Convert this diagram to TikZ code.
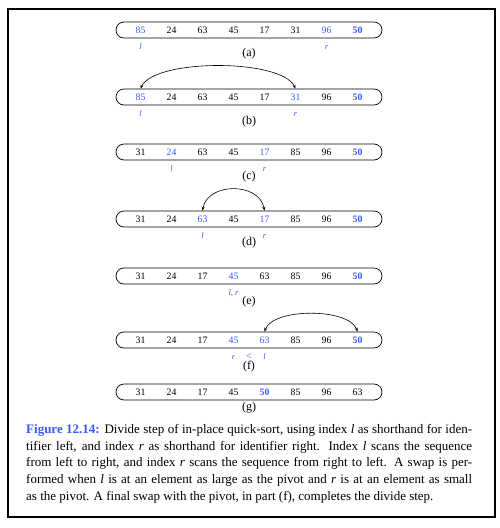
\documentclass[tikz,border=0pt]{standalone}
\usepackage{fontspec}
\setmainfont{Liberation Serif}
\usetikzlibrary{arrows.meta, positioning}
\definecolor{idxblue}{HTML}{3858FF}

\begin{document}
\begin{tikzpicture}[
    x=1pt, y=1pt,
    seqbox/.style={draw, rounded corners=8pt, minimum width=266pt, minimum height=16pt, line width=0.7pt},
    num/.style={font=\fontsize{9.8}{10}\selectfont, inner sep=1pt},
    numblue/.style={num, text=idxblue},
    numpivot/.style={num, text=idxblue, font=\fontsize{9.8}{10}\selectfont\bfseries},
    idx/.style={font=\fontsize{8.5}{9}\selectfont\itshape, text=idxblue, inner sep=1pt},
    tag/.style={font=\fontsize{12}{14}\selectfont, inner sep=1pt},
    swap/.style={{Stealth[length=4pt, width=3pt]}-{Stealth[length=4pt, width=3pt]}, line width=0.6pt},
]

\useasboundingbox (0,0) rectangle (499,-528);
\draw[line width=1.4pt] (8,-9) rectangle (495,-517);

% (a)
\node[seqbox] (rowa) at (249,-30) {};
\foreach \v/\s [count=\i] in {85/numblue, 24/num, 63/num, 45/num, 17/num, 31/num, 96/numblue, 50/numpivot}
  \node[\s] (a\i) at ([xshift={(\i-4.5)*31pt}]rowa.center) {\v};
\node[idx] (la) at ([yshift=-17pt]a1.center) {l};
\node[idx] (ra) at ([yshift=-17pt]a7.center) {r};
\node[tag] (capa) at ([yshift=-24pt]rowa.center) {(a)};

% (b)
\node[seqbox] (rowb) at (249,-97) {};
\foreach \v/\s [count=\i] in {85/numblue, 24/num, 63/num, 45/num, 17/num, 31/numblue, 96/num, 50/numpivot}
  \node[\s] (b\i) at ([xshift={(\i-4.5)*31pt}]rowb.center) {\v};
\node[idx] (lb) at ([yshift=-17pt]b1.center) {l};
\node[idx] (rb) at ([yshift=-17pt]b6.center) {r};
\node[tag] (capb) at ([yshift=-25pt]rowb.center) {(b)};
\draw[swap] (b1 |- rowb.north) to[out=65, in=115, looseness=0.55] (b6 |- rowb.north);

% (c)
\node[seqbox] (rowc) at (249,-152) {};
\foreach \v/\s [count=\i] in {31/num, 24/numblue, 63/num, 45/num, 17/numblue, 85/num, 96/num, 50/numpivot}
  \node[\s] (c\i) at ([xshift={(\i-4.5)*31pt}]rowc.center) {\v};
\node[idx] (lc) at ([yshift=-17pt]c2.center) {l};
\node[idx] (rc) at ([yshift=-17pt]c5.center) {r};
\node[tag] (capc) at ([yshift=-25pt]rowc.center) {(c)};

% (d)
\node[seqbox] (rowd) at (249,-219) {};
\foreach \v/\s [count=\i] in {31/num, 24/num, 63/numblue, 45/num, 17/numblue, 85/num, 96/num, 50/numpivot}
  \node[\s] (d\i) at ([xshift={(\i-4.5)*31pt}]rowd.center) {\v};
\node[idx] (ld) at ([yshift=-17pt]d3.center) {l};
\node[idx] (rd) at ([yshift=-17pt]d5.center) {r};
\node[tag] (capd) at ([yshift=-24pt]rowd.center) {(d)};
\draw[swap] (d3 |- rowd.north) to[out=80, in=100, looseness=1.2] (d5 |- rowd.north);

% (e)
\node[seqbox] (rowe) at (249,-276) {};
\foreach \v/\s [count=\i] in {31/num, 24/num, 17/num, 45/numblue, 63/num, 85/num, 96/num, 50/numpivot}
  \node[\s] (e\i) at ([xshift={(\i-4.5)*31pt}]rowe.center) {\v};
\node[idx] (lre) at ([yshift=-17pt]e4.center) {l, r};
\node[tag] (cape) at ([yshift=-26pt]rowe.center) {(e)};

% (f)
\node[seqbox] (rowf) at (249,-340) {};
\foreach \v/\s [count=\i] in {31/num, 24/num, 17/num, 45/numblue, 63/numblue, 85/num, 96/num, 50/numpivot}
  \node[\s] (f\i) at ([xshift={(\i-4.5)*31pt}]rowf.center) {\v};
\node[idx] (rf) at ([yshift=-17pt]f4.center) {r};
\node[idx, font=\fontsize{10}{10}\selectfont] (ltf) at ([yshift=-17pt]rowf.center) {<};
\node[idx] (lf) at ([yshift=-17pt]f5.center) {l};
\node[tag] (capf) at ([yshift=-27pt]rowf.center) {(f)};
\draw[swap] (f5 |- rowf.north) to[out=70, in=110, looseness=0.7] (f8 |- rowf.north);

% (g)
\node[seqbox] (rowg) at (249,-392) {};
\foreach \v/\s [count=\i] in {31/num, 24/num, 17/num, 45/num, 50/numpivot, 85/num, 96/num, 63/num}
  \node[\s] (g\i) at ([xshift={(\i-4.5)*31pt}]rowg.center) {\v};
\node[tag] (capg) at ([yshift=-16pt]rowg.center) {(g)};

% caption
\node[anchor=north west, text width=446pt, align=justify, inner sep=0pt,
      font=\fontsize{13}{16.8}\selectfont] (caption) at (26,-424) {%
  \textcolor{idxblue}{\textbf{Figure 12.14:}} Divide step of in-place quick-sort, using index \textit{l} as shorthand for iden-\linebreak
  tifier left, and index \textit{r} as shorthand for identifier right. Index \textit{l} scans the sequence\linebreak
  from left to right, and index \textit{r} scans the sequence from right to left. A swap is per-\linebreak
  formed when \textit{l} is at an element as large as the pivot and \textit{r} is at an element as small\linebreak
  as the pivot. A final swap with the pivot, in part (f), completes the divide step.};

\end{tikzpicture}
\end{document}
